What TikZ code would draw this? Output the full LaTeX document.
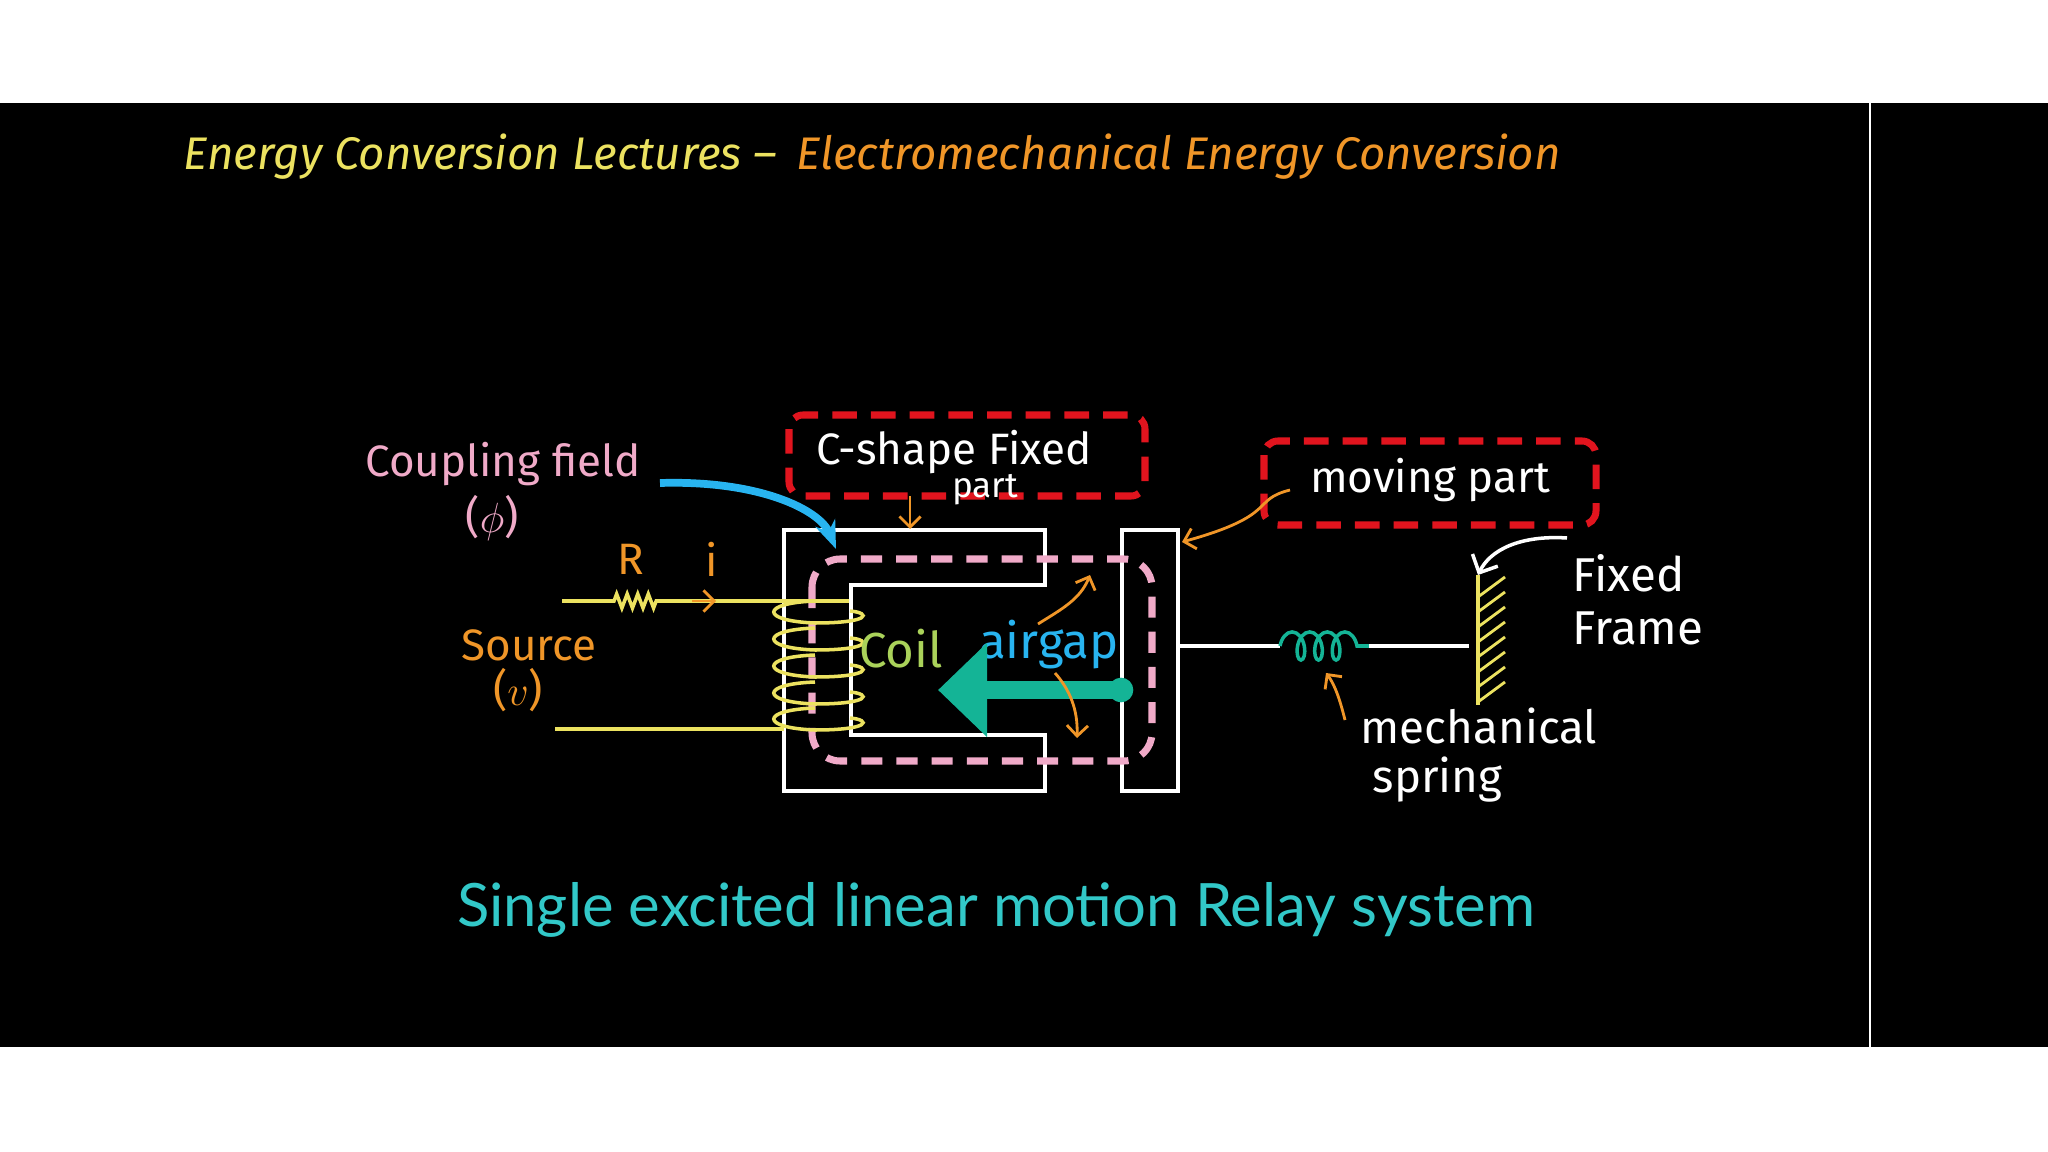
\documentclass[tikz,border=0pt]{standalone}
\usepackage{fontspec}
\setmainfont{Fira Sans}
\newfontfamily\capfont{Lato}
\usetikzlibrary{decorations.pathmorphing,arrows.meta}
\definecolor{hwyellow}{RGB}{236,226,96}
\definecolor{hworange}{RGB}{240,150,40}
\definecolor{hwpink}{RGB}{240,170,200}
\definecolor{hwblue}{RGB}{40,180,240}
\definecolor{hwteal}{RGB}{20,180,150}
\definecolor{hwred}{RGB}{225,20,30}
\definecolor{hwgreen}{RGB}{170,210,90}
\definecolor{captcol}{RGB}{50,200,200}
\tikzset{
  hand/.style={font=\fontsize{12.5}{15}\selectfont, inner sep=0pt},
  redbox/.style={draw=hwred, line width=2pt, dash pattern=on 7pt off 4pt, rounded corners=4pt},
  core/.style={draw=white, line width=1pt},
  wire/.style={draw=hwyellow, line width=1pt},
  note/.style={draw=hworange, line width=0.8pt, -{Straight Barb[length=3pt]}}
}
\begin{document}
\begin{tikzpicture}[x=0.01cm,y=-0.01cm]
\useasboundingbox (0,0) rectangle (2048,1152);
\fill[white] (0,0) rectangle (2048,1152);
\fill[black] (0,103) rectangle (2048,1047);
\draw[white, line width=0.8pt] (1870,103) -- (1870,1047);

% title
\node[hand, anchor=west, text=hwyellow, font=\itshape\fontsize{13}{15}\selectfont] (title1) at (183,157) {Energy Conversion Lectures --};
\node[hand, anchor=west, text=hworange, font=\itshape\fontsize{13}{15}\selectfont] (title2) at ([xshift=5pt]title1.east) {Electromechanical Energy Conversion};

% C core and moving bar
\draw[core] (784,530) -- (1045,530) -- (1045,585) -- (851,585) -- (851,735)
  -- (1045,735) -- (1045,791) -- (784,791) -- cycle;
\draw[core] (1122,530) rectangle (1178,791);
\coordinate (barR) at (1178,646);
\draw[hwpink, line width=2pt, dash pattern=on 6pt off 4pt, rounded corners=8pt]
  (812,559) rectangle (1152,761);

% boxes
\draw[redbox] (789,415) rectangle (1145,496);
\node[hand, text=white] (cshape) at (954,452) {C-shape Fixed};
\node[hand, text=white, font=\fontsize{10}{12}\selectfont] (cpart) at (985,490) {part};
\draw[redbox] (1264,441) rectangle (1596,525);
\node[hand, text=white] (moving) at (1430,480) {moving part};
\coordinate (cTop) at (910,529);
\coordinate (bTop) at (1182,542);
\draw[note] (910,496) -- (cTop);
\draw[note] (1290,490) .. controls (1250,500) and (1280,515) .. (bTop);

% coupling field
\node[hand, text=hwpink] (cfield) at (503,464) {Coupling field};
\node[hand, text=hwpink] (phi) at (492,518) {($\phi$)};
\coordinate (fluxIn) at (836,549);
\draw[hwblue, line width=2.2pt, -{Stealth[length=8pt]}] (660,483) .. controls (760,480) and (820,510) .. (fluxIn);

% source circuit
\node[hand, text=hworange] (rlab) at (631,559) {R};
\node[hand, text=hworange] (ilab) at (712,559) {i};
\node[hand, text=hworange] (src) at (529,645) {Source};
\node[hand, text=hworange] (vlab) at (518,690) {($v$)};
\coordinate (topIn) at (562,601);
\coordinate (botIn) at (555,729);
\coordinate (coilTop) at (849,601);
\coordinate (coilBot) at (784,729);
\draw[wire] (topIn) -- (614,601)
  decorate[decoration={zigzag,segment length=3pt,amplitude=2pt}] {-- (660,601)} -- (coilTop);
\draw[note] (692,601) -- (716,601);
\draw[wire] (botIn) -- (coilBot);
\foreach \yy in {601,628,655,682,708}
  \draw[wire] (815,\yy) .. controls (760,\yy+2) and (760,\yy+20) .. (815,\yy+22)
              .. controls (870,\yy+22) and (872,\yy+12) .. (850,\yy+10);
\node[hand, text=hwgreen, font=\fontsize{14}{16}\selectfont] (coil) at (901,649) {Coil};

% airgap
\node[hand, text=hwblue, font=\fontsize{14}{16}\selectfont] (airgap) at (1049,645) {airgap};
\coordinate (gapTail) at (1121,690);
\coordinate (gapHead) at (938,690);
\draw[hwteal, line width=5pt, -{Triangle[length=14pt,width=26pt]}] (gapTail) -- (gapHead);
\fill[hwteal] (gapTail) circle (3.5pt);
\draw[note] (1038,624) .. controls (1060,610) and (1080,600) .. (1090,575);
\draw[note] (1055,673) .. controls (1070,690) and (1078,710) .. (1077,738);

% spring and frame
\coordinate (sprA) at (1280,646);
\coordinate (sprB) at (1369,646);
\coordinate (frame) at (1469,646);
\draw[white, line width=0.9pt] (barR) -- (sprA);
\draw[hwteal, line width=1pt, decorate, decoration={coil,aspect=0.55,segment length=5pt,amplitude=4pt}] (sprA) -- (sprB);
\draw[white, line width=0.9pt] (sprB) -- (frame);
\draw[hwyellow, line width=1pt] (1478,575) -- (1478,705);
\foreach \yy in {585,600,...,700}
  \draw[hwyellow, line width=0.8pt] (1478,\yy+12) -- (1505,\yy-8);
\node[hand, text=white, align=left, anchor=west, font=\fontsize{13.5}{15}\selectfont] (ff) at (1572,600) {Fixed\\Frame};
\draw[white, line width=1pt, -{Straight Barb[length=4pt]}] (1567,538) .. controls (1520,535) and (1490,550) .. (1478,575);
\node[hand, text=white, align=left, anchor=west, font=\fontsize{13}{14}\selectfont] (ms) at (1360,755) {mechanical\\\ spring};
\draw[note] (1345,720) .. controls (1340,700) and (1335,685) .. (1326,673);

% caption
\node[text=captcol, font=\capfont\fontsize{17}{20}\selectfont] (caption) at (996,910) {Single excited linear motion Relay system};
\end{tikzpicture}
\end{document}
